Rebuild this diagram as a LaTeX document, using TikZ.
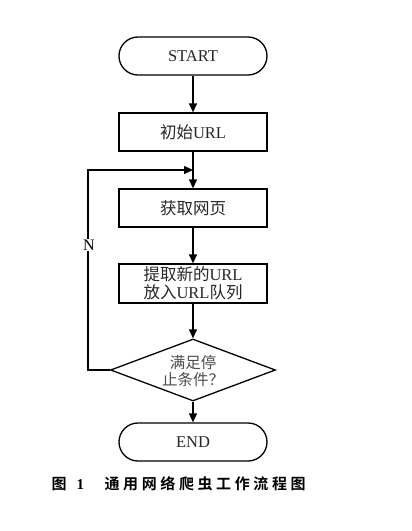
\documentclass[tikz,border=0pt]{standalone}
\usepackage{fontspec}
\setmainfont{Liberation Serif}
\newfontfamily\cjk{Noto Sans CJK SC}
\newfontfamily\cjkb[LetterSpace=24]{Noto Sans CJK SC Bold}
\newfontfamily\cjkbn{Noto Sans CJK SC Bold}
\usetikzlibrary{arrows.meta,shapes.geometric}
\begin{document}
\begin{tikzpicture}[x=1pt,y=-1pt,
  line width=1.3pt,
  flow/.style={-{Triangle[length=9pt,width=8pt]}},
  procbox/.style={draw,rectangle,minimum width=148pt,minimum height=38pt,inner sep=0pt,align=center,font=\fontsize{16.5}{18}\selectfont,text=black!85},
  termbox/.style={procbox,rounded corners=19pt},
  decbox/.style={draw,diamond,minimum width=165pt,minimum height=62pt,inner sep=0pt},
  dectext/.style={align=center,font=\fontsize{15.5}{17.5}\selectfont,text=black!70},
]
\useasboundingbox (0,0) rectangle (412,531);
\node[termbox] (start) at (193,56) {START};
\node[procbox] (init) at (193,132) {{\cjk 初始}URL};
\node[procbox] (fetch) at (193,208) {\cjk 获取网页};
\node[procbox,minimum height=39pt] (extract) at (193,283.5) {{\cjk 提取新的}URL\\{\cjk 放入}URL{\cjk 队列}};
\node[decbox] (cond) at (193,370) {};
\node[dectext] (condtext) at (193,371) {\cjk 满足停\\\cjk 止条件？};
\node[termbox] (end) at (193,442) {END};
\coordinate (join) at (193,170);
\coordinate (loopb) at (88,370);
\coordinate (loopt) at (88,170);
\draw[flow] (start) -- (init);
\draw[flow] (init) -- (fetch);
\draw[flow] (fetch) -- (extract);
\draw[flow] (extract) -- (cond);
\draw[flow] (cond) -- (end);
\draw[flow] (cond.west) -- (loopb) -- (loopt) -- (join);
\node[fill=white,inner sep=1pt,font=\fontsize{16}{18}\selectfont] (nlab) at (89,245) {N};
\node[anchor=west,inner sep=0pt,font=\fontsize{15}{18}\selectfont] (capnum) at (51,484) {{\cjkbn 图}\hspace{10pt}\textbf{1}};
\node[anchor=west,inner sep=0pt,font=\fontsize{15}{18}\selectfont] (cap) at (104,484) {\cjkb 通用网络爬虫工作流程图};
\end{tikzpicture}
\end{document}
